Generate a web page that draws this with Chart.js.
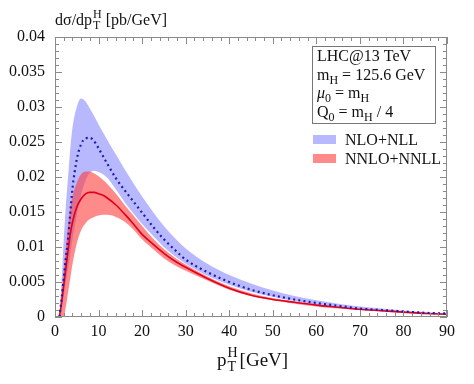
<!DOCTYPE html>
<html>
<head>
<meta charset="utf-8">
<script src="https://cdn.jsdelivr.net/npm/chart.js@4.4.1/dist/chart.umd.min.js"></script>
<style>
  html, body { margin: 0; padding: 0; background: #fff; }
  #wrap { width: 474px; height: 384px; }
</style>
</head>
<body>
<div id="wrap"><canvas id="ptChart" width="474" height="384"></canvas></div>
<script>
// pT grid in GeV, values in pb/GeV
const pT = [1, 1.5, 2, 2.5, 3, 3.5, 4, 5, 6, 7, 8, 9, 10, 11, 12, 14, 16, 18, 20, 22.5, 25, 27.5, 30, 35, 40, 45, 50, 55, 60, 65, 70, 75, 80, 85, 90];

const nloHigh = [0, 0.005, 0.011, 0.016, 0.020, 0.024, 0.027, 0.030, 0.0312, 0.0308, 0.0298, 0.0287, 0.0275, 0.0264, 0.0253, 0.0232, 0.0211, 0.0191, 0.0172, 0.0150, 0.0130, 0.0113, 0.0098, 0.0076, 0.0060, 0.0048, 0.0038, 0.0030, 0.0024, 0.0019, 0.0015, 0.0012, 0.0009, 0.0007, 0.0005];
const nloCentral = [0, 0.0025, 0.0055, 0.0085, 0.0112, 0.0148, 0.0183, 0.0225, 0.0247, 0.0255, 0.0256, 0.0251, 0.0241, 0.0230, 0.0219, 0.0198, 0.0181, 0.0165, 0.0149, 0.0129, 0.0111, 0.0096, 0.0082, 0.0064, 0.0050, 0.0039, 0.0031, 0.0025, 0.0020, 0.0016, 0.0012, 0.0010, 0.0008, 0.0006, 0.0005];
const nloLow = [0, 0.001, 0.003, 0.005, 0.007, 0.009, 0.011, 0.0145, 0.0175, 0.0195, 0.0206, 0.0209, 0.0207, 0.0204, 0.0199, 0.0182, 0.0164, 0.0148, 0.0133, 0.0116, 0.0100, 0.0087, 0.0076, 0.0059, 0.0046, 0.0036, 0.0029, 0.0023, 0.0018, 0.0014, 0.0011, 0.0009, 0.0007, 0.0005, 0.0004];

const nnloHigh = [0, 0.003, 0.0065, 0.010, 0.013, 0.0155, 0.0172, 0.0192, 0.0204, 0.0208, 0.0208, 0.0205, 0.0201, 0.0196, 0.0190, 0.0176, 0.0160, 0.0145, 0.0130, 0.0112, 0.0097, 0.0085, 0.0075, 0.0058, 0.0044, 0.0034, 0.0027, 0.0022, 0.0018, 0.0014, 0.0011, 0.0009, 0.0007, 0.0006, 0.0004];
const nnloCentral = [0, 0.002, 0.0045, 0.007, 0.0095, 0.0118, 0.0135, 0.0157, 0.0169, 0.0176, 0.0178, 0.0178, 0.0176, 0.0174, 0.0170, 0.0160, 0.0147, 0.0133, 0.0118, 0.0104, 0.0091, 0.0080, 0.0071, 0.0055, 0.0041, 0.0031, 0.0025, 0.0021, 0.0017, 0.0014, 0.0011, 0.0009, 0.0007, 0.0005, 0.0004];
const nnloLow = [0, 0, 0, 0.0015, 0.0035, 0.0055, 0.0075, 0.0105, 0.0124, 0.0134, 0.0140, 0.0143, 0.0145, 0.0146, 0.0146, 0.0143, 0.0136, 0.0125, 0.0111, 0.0097, 0.0084, 0.0074, 0.0066, 0.0052, 0.0039, 0.0030, 0.0024, 0.0019, 0.0015, 0.0012, 0.0010, 0.0008, 0.0006, 0.0005, 0.0003];

const seriesNames = ['NLO+NLL', 'NNLO+NNLL'];
const infoLines = [
    [['LHC@13 TeV']],
    [['m'], ['H', 'sub'], [' = 125.6 GeV']],
    [['\u03bc', 'it'], ['0', 'sub'], [' = m'], ['H', 'sub']],
    [['Q'], ['0', 'sub'], [' = m'], ['H', 'sub'], [' / 4']]
];

const SERIF = '"Liberation Serif", "DejaVu Serif", serif';
const BLUE_FILL = 'rgba(125, 125, 255, 0.55)';
const RED_FILL = 'rgba(255, 60, 60, 0.6)';
const FRAME = '#8a8a8a';

const pts = arr => arr.map((v, i) => ({ x: pT[i], y: v }));

// draws a run of text pieces: [text, kind] where kind is '', 'sub', 'sup', 'it', 'supsub', 'gap'
function drawRich(ctx, x, y, parts, size) {
    let cx = x;
    parts.forEach(p => {
        const kind = p[1] || '';
        if (kind === 'gap') { cx += p[0]; return; }
        if (kind === 'supsub') {
            ctx.font = `${Math.round(size * 0.72)}px ${SERIF}`;
            const w1 = ctx.measureText(p[0]).width;
            const w2 = ctx.measureText(p[2]).width;
            ctx.fillText(p[0], cx + 1, y - size * 0.45);
            ctx.fillText(p[2], cx + 1, y + size * 0.25);
            cx += Math.max(w1, w2) + 1;
            return;
        }
        let dy = 0;
        let font = `${size}px ${SERIF}`;
        if (kind === 'sub') { font = `${Math.round(size * 0.72)}px ${SERIF}`; dy = size * 0.25; }
        if (kind === 'sup') { font = `${Math.round(size * 0.72)}px ${SERIF}`; dy = -size * 0.45; }
        if (kind === 'it') font = `italic ${size}px ${SERIF}`;
        ctx.font = font;
        ctx.fillText(p[0], cx, y + dy);
        cx += ctx.measureText(p[0]).width;
    });
}

const framePlugin = {
    id: 'frame',
    afterDraw(chart) {
        const { ctx, chartArea: a, scales } = chart;
        const xs = scales.x, ys = scales.y;
        ctx.save();
        ctx.strokeStyle = FRAME;
        ctx.lineWidth = 1;
        ctx.strokeRect(a.left + 0.5, a.top + 0.5, a.right - a.left - 1, a.bottom - a.top - 1);
        ctx.beginPath();
        for (let v = 0; v <= 90.001; v += 2) {
            const px = Math.round(xs.getPixelForValue(v)) + 0.5;
            const len = Math.abs(v % 10) < 0.01 ? 7 : 4;
            ctx.moveTo(px, a.bottom); ctx.lineTo(px, a.bottom - len);
            ctx.moveTo(px, a.top); ctx.lineTo(px, a.top + len);
        }
        for (let k = 0; k <= 40; k++) {
            const py = Math.round(ys.getPixelForValue(k / 1000)) + 0.5;
            const len = k % 5 === 0 ? 7 : 4;
            ctx.moveTo(a.left, py); ctx.lineTo(a.left + len, py);
            ctx.moveTo(a.right, py); ctx.lineTo(a.right - len, py);
        }
        ctx.stroke();

        ctx.fillStyle = '#111';
        ctx.textBaseline = 'alphabetic';
        // axis titles
        drawRich(ctx, 55, 25, [['d\u03c3/dp'], ['H', 'supsub', 'T'], [' [pb/GeV]']], 16);
        drawRich(ctx, 217, 366, [['p'], ['H', 'supsub', 'T'], [2, 'gap'], ['[GeV]']], 19);

        // info box
        ctx.strokeStyle = '#777';
        ctx.strokeRect(312.5, 46.5, 123, 77);
        infoLines.forEach((line, i) => drawRich(ctx, 317, 61 + i * 18.5, line, 16));

        // legend swatches
        const fills = [BLUE_FILL, RED_FILL];
        seriesNames.forEach((name, i) => {
            const y0 = 135 + i * 19;
            ctx.fillStyle = fills[i];
            ctx.fillRect(313, y0, 23, 9);
            ctx.fillStyle = '#111';
            ctx.font = `16px ${SERIF}`;
            ctx.fillText(name, 345, y0 + 10);
        });
        ctx.restore();
    }
};

new Chart(document.getElementById('ptChart').getContext('2d'), {
    type: 'line',
    data: {
        datasets: [
            { label: seriesNames[0] + ' high', data: pts(nloHigh), fill: '+1', backgroundColor: BLUE_FILL, borderWidth: 0, order: 4 },
            { label: seriesNames[0] + ' low', data: pts(nloLow), fill: false, borderWidth: 0, order: 4 },
            { label: seriesNames[1] + ' high', data: pts(nnloHigh), fill: '+1', backgroundColor: RED_FILL, borderWidth: 0, order: 3 },
            { label: seriesNames[1] + ' low', data: pts(nnloLow), fill: false, borderWidth: 0, order: 3 },
            { label: seriesNames[1], data: pts(nnloCentral), fill: false, borderColor: '#e0001a', borderWidth: 1.6, order: 1 },
            { label: seriesNames[0], data: pts(nloCentral), fill: false, borderColor: '#1c1cb4', borderWidth: 2.2, borderDash: [2, 3.2], order: 0 }
        ]
    },
    options: {
        responsive: false,
        animation: false,
        layout: { padding: { top: 37, right: 27, left: 0, bottom: 0 } },
        elements: {
            point: { radius: 0 },
            line: { cubicInterpolationMode: 'monotone' }
        },
        scales: {
            x: {
                type: 'linear', min: 0, max: 90,
                grid: { display: false, drawTicks: false },
                border: { display: false },
                ticks: { stepSize: 10, padding: 5, color: '#111', font: { family: SERIF, size: 16 } },
                afterFit: s => { s.height = 67; }
            },
            y: {
                type: 'linear', min: 0, max: 0.04,
                grid: { display: false, drawTicks: false },
                border: { display: false },
                ticks: {
                    stepSize: 0.005, padding: 10, color: '#111', font: { family: SERIF, size: 16 },
                    callback: v => v === 0 ? '0' : String(+v.toFixed(3))
                },
                afterFit: s => { s.width = 55; }
            }
        },
        plugins: {
            legend: { display: false },
            tooltip: { enabled: false }
        }
    },
    plugins: [framePlugin]
});
</script>
</body>
</html>
